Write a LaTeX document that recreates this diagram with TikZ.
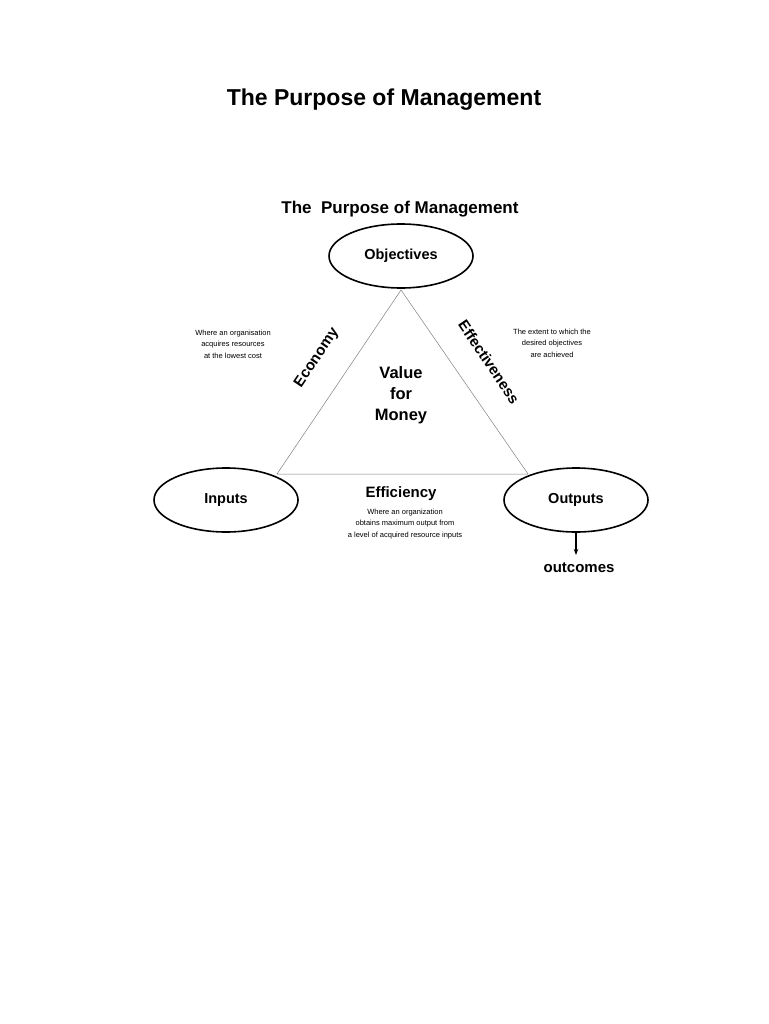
\documentclass[tikz,border=0pt]{standalone}
\usepackage{fontspec}
\setmainfont{Liberation Sans}
\usetikzlibrary{arrows.meta,shapes.geometric}
\begin{document}
\begin{tikzpicture}[x=1pt,y=-1pt,
  oval/.style={draw,line width=1.6pt,ellipse,minimum width=144pt,minimum height=64pt,font=\bfseries\fontsize{14.5}{16}\selectfont},
  tri/.style={draw=gray,line width=0.5pt},
  small/.style={font=\fontsize{7.5}{11.5}\selectfont,align=center},
  lbl/.style={font=\bfseries\fontsize{15}{17}\selectfont}]
\useasboundingbox (0,0) rectangle (768,1024);
\node[font=\bfseries\fontsize{23}{26}\selectfont] (title) at (384,100) {The Purpose of Management};
\node[font=\bfseries\fontsize{17}{19}\selectfont] (sub) at (400,209) {The\ \ Purpose of Management};
\node[oval] (obj) at (401,256) {Objectives};
\node[oval] (inp) at (226,500) {Inputs};
\node[oval] (out) at (576,500) {Outputs};
\coordinate (A) at (401,290);
\coordinate (L) at (277,474);
\coordinate (R) at (528,474);
\draw[tri] (A) -- (L) -- (R) -- cycle;
\node[lbl,rotate=56] (eco) at (317,358) {Economy};
\node[lbl,rotate=-56] (eff) at (489,362) {Effectiveness};
\node[lbl,align=center,font=\bfseries\fontsize{16.5}{21}\selectfont] (vfm) at (401,395) {Value\\for\\Money};
\node[lbl] (effi) at (401,494) {Efficiency};
\node[small] (st1) at (405,524) {Where an organization\\obtains maximum output from\\a level of acquired resource inputs};
\node[small] (st2) at (233,344) {Where an organisation\\acquires resources\\at the lowest cost};
\node[small] (st3) at (552,343) {The extent to which the\\desired objectives\\are achieved};
\node[lbl] (oc) at (579,568) {outcomes};
\coordinate (tip) at (576,555);
\draw[line width=1.6pt,-{Stealth[length=6pt]}] (out.south) -- (tip);
\end{tikzpicture}
\end{document}
